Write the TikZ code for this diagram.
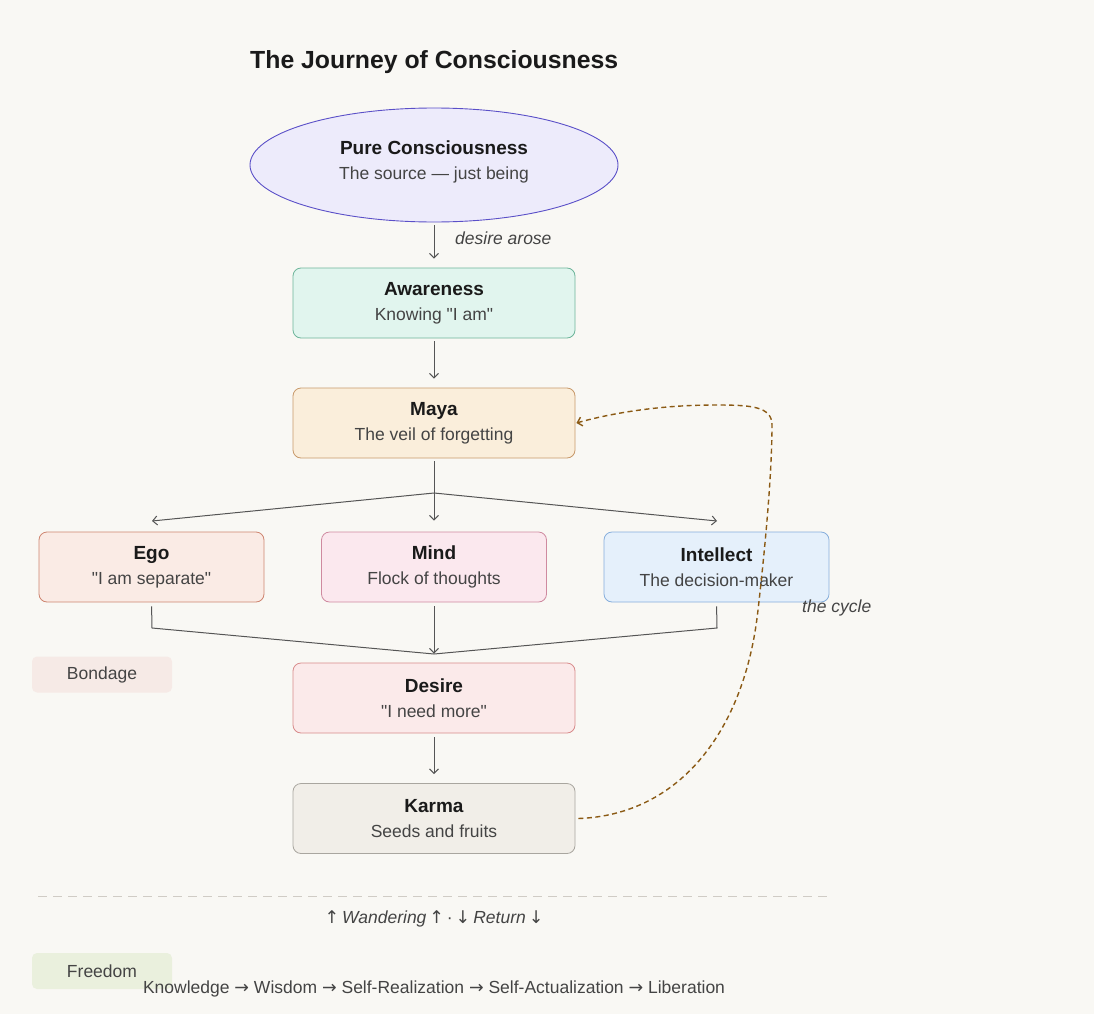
\documentclass[tikz,border=0pt]{standalone}
\usepackage{fontspec}
\setmainfont{Liberation Sans}[Ligatures=TeXOff]
\newfontfamily\arrfont{DejaVu Sans}
\usetikzlibrary{arrows.meta,shapes.geometric}
\definecolor{bg}{HTML}{F9F8F4}
\definecolor{ink}{HTML}{1A1A1A}
\definecolor{subink}{HTML}{444444}
\definecolor{conn}{HTML}{555555}
\definecolor{cyc}{HTML}{8B5A14}
\definecolor{pcF}{HTML}{EDEBFB}\definecolor{pcD}{HTML}{5B50C8}
\definecolor{awF}{HTML}{E1F5EE}\definecolor{awD}{HTML}{6DB59A}
\definecolor{maF}{HTML}{FAEEDB}\definecolor{maD}{HTML}{C8996A}
\definecolor{egF}{HTML}{FAEBE5}\definecolor{egD}{HTML}{CE8570}
\definecolor{miF}{HTML}{FBE8EE}\definecolor{miD}{HTML}{CF8AA0}
\definecolor{inF}{HTML}{E5F0FB}\definecolor{inD}{HTML}{86AEDC}
\definecolor{deF}{HTML}{FBEAEA}\definecolor{deD}{HTML}{D88B8B}
\definecolor{kaF}{HTML}{F1EEE8}\definecolor{kaD}{HTML}{A9A69F}
\definecolor{boF}{HTML}{F6EAE6}
\definecolor{frF}{HTML}{EAF0DD}
\definecolor{rule}{HTML}{D0CCC5}
\newcommand{\ttl}[1]{{\fontsize{19}{25}\selectfont\bfseries\color{ink}#1}}
\newcommand{\sbt}[1]{{\fontsize{17.5}{25}\selectfont\color{subink}#1}}
\begin{document}
\begin{tikzpicture}[x=1pt,y=-1pt,
  stagebox/.style={rectangle, rounded corners=8pt, line width=0.8pt, minimum width=282pt, minimum height=70pt, align=center, inner sep=0pt, font=\fontsize{17.5}{25}\selectfont},
  sidebox/.style={stagebox, minimum width=225pt},
  tagbox/.style={rectangle, rounded corners=5pt, minimum width=140pt, minimum height=36pt, inner sep=0pt, text=subink, font=\fontsize{17.5}{20}\selectfont},
  conn/.style={draw=conn, line width=1pt, -{Straight Barb[length=4.5pt,width=9pt]}},
  connline/.style={draw=conn, line width=1pt},
  lbl/.style={font=\fontsize{17.5}{20}\selectfont\itshape, text=subink, inner sep=0pt}
]
\fill[bg] (0,0) rectangle (1094,1014);
\useasboundingbox (0,0) rectangle (1094,1014);

\node[anchor=west, inner sep=0pt, text=ink, font=\fontsize{24.8}{28}\selectfont\bfseries] (title) at (250,62) {The Journey of Consciousness};

\node[ellipse, fill=pcF, draw=pcD, line width=0.9pt, minimum width=368pt, minimum height=114pt, align=center, inner sep=0pt, font=\fontsize{17.5}{25}\selectfont] (pure) at (434,165) {\ttl{Pure Consciousness}\\\sbt{The source — just being\rule[-10pt]{0pt}{10pt}}};

\node[stagebox, fill=awF, draw=awD] (aware) at (434,303) {\ttl{Awareness}\\\sbt{Knowing "I am"}};
\node[stagebox, fill=maF, draw=maD] (maya) at (434,423) {\ttl{Maya}\\\sbt{The veil of forgetting}};
\node[sidebox, fill=egF, draw=egD] (ego) at (151.5,567) {\ttl{Ego}\\\sbt{"I am separate"}};
\node[sidebox, fill=miF, draw=miD] (mind) at (434,567) {\ttl{Mind}\\\sbt{Flock of thoughts}};
\node[sidebox, fill=inF, draw=inD] (intel) at (716.5,567) {\ttl{Intellect}\\\sbt{The decision-maker}};
\node[stagebox, fill=deF, draw=deD] (desire) at (434,698) {\ttl{Desire}\\\sbt{"I need more"}};
\node[stagebox, fill=kaF, draw=kaD] (karma) at (434,818.5) {\ttl{Karma}\\\sbt{Seeds and fruits}};

\node[tagbox, fill=boF] (bondage) at (102,674.5) {Bondage};
\node[tagbox, fill=frF] (freedom) at (102,971) {Freedom};

% vertical arrows
\draw[conn, shorten <=3pt, shorten >=9pt] (pure) -- (aware);
\node[lbl, anchor=west] (arose) at (455,238) {desire arose};
\draw[conn, shorten <=3pt, shorten >=9pt] (aware) -- (maya);

% fan out
\coordinate (split) at (434,493);
\coordinate (egoin) at (152,521);
\coordinate (intin) at (717,521);
\draw[connline, shorten <=3pt] (maya) -- (split);
\draw[conn] (split) -- (egoin);
\draw[conn] (split) -- (intin);
\draw[conn, shorten >=11pt] (split) -- (mind.north);

% merge
\coordinate (egoout) at (152,628);
\coordinate (intout) at (717,628);
\coordinate (merge) at (434,654);
\draw[connline, shorten <=4pt] (ego.south) -- (egoout) -- (merge);
\draw[connline, shorten <=4pt] (intel.south) -- (intout) -- (merge);
\draw[conn, shorten <=4pt, shorten >=9pt] (mind.south) -- (desire.north);

\draw[conn, shorten <=4pt, shorten >=9pt] (desire) -- (karma);

% the cycle
\draw[draw=cyc, line width=1.4pt, dash pattern=on 5pt off 3.5pt, -{Straight Barb[length=4.5pt,width=9pt]}]
  ([xshift=3pt]karma.east) .. controls (680,815) and (745,730) .. (758,610)
  .. controls (766,540) and (772,470) .. (772,425)
  .. controls (772,406) and (750,405) .. (715,405)
  .. controls (660,405) and (612,413) .. ([xshift=1pt]maya.east);
\node[lbl, anchor=west] (cyclbl) at (802,608) {the cycle};

% bottom
\coordinate (ruleL) at (38,896);
\coordinate (ruleR) at (830,896);
\draw[rule, line width=0.9pt, dash pattern=on 9pt off 6pt] (ruleL) -- (ruleR);
\node[inner sep=0pt, text=subink, font=\fontsize{17.5}{20}\selectfont] (wander) at (434,919) {{\arrfont ↑}\,\textit{Wandering}\,{\arrfont ↑}\,·\,{\arrfont ↓}\,\textit{Return}\,{\arrfont ↓}};
\node[inner sep=0pt, text=subink, font=\fontsize{17.5}{20}\selectfont] (path) at (434,989) {Knowledge {\arrfont →} Wisdom {\arrfont →} Self-Realization {\arrfont →} Self-Actualization {\arrfont →} Liberation};
\end{tikzpicture}
\end{document}
